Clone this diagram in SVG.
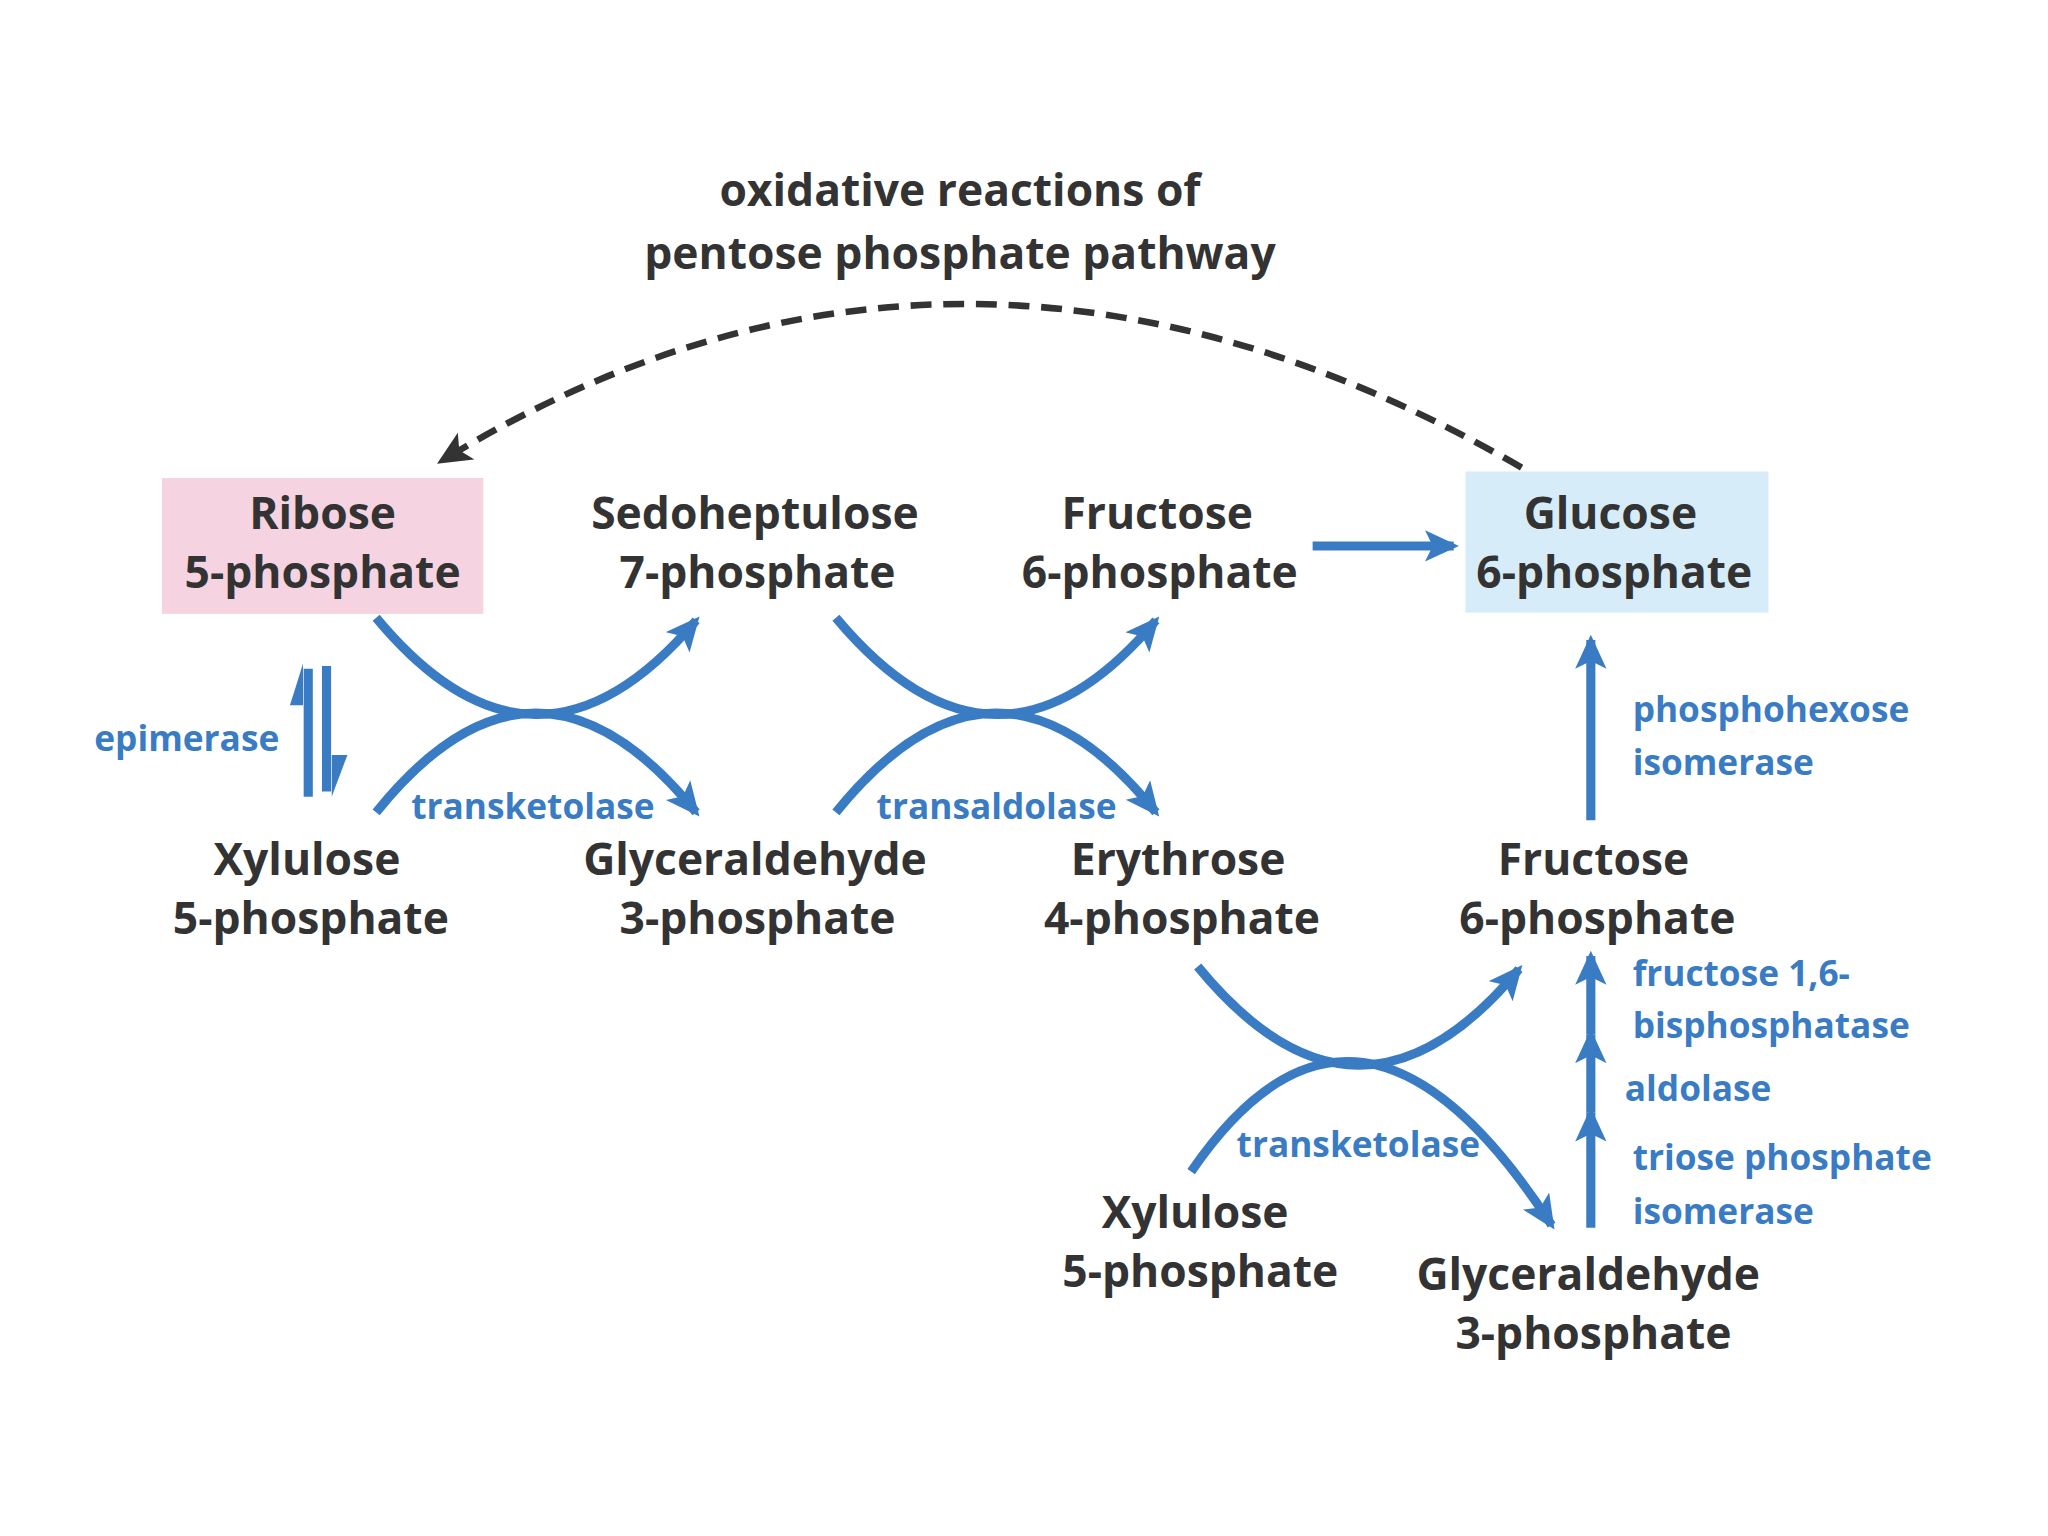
<svg xmlns="http://www.w3.org/2000/svg" width="2048" height="1536" viewBox="0 0 2048 1536">
<style>
.n{font-family:"Open Sans","Liberation Sans",sans-serif;font-weight:700;font-size:34px;fill:#333;text-anchor:middle}
.e{font-family:"Open Sans","Liberation Sans",sans-serif;font-weight:700;font-size:27px;fill:#3a7cc4}
.c{text-anchor:middle}
.b{fill:none;stroke:#3a7cc4;stroke-width:7}
</style>
<defs>
<marker id="a" markerUnits="userSpaceOnUse" markerWidth="30" markerHeight="30" refX="22" refY="12" orient="auto"><path d="M0,0 L26,12 L0,24 L6,12 Z" fill="#3a7cc4"/></marker>
<marker id="d" markerUnits="userSpaceOnUse" markerWidth="30" markerHeight="30" refX="22" refY="12" orient="auto"><path d="M0,0 L26,12 L0,24 L6,12 Z" fill="#333"/></marker>
</defs>
<rect width="2048" height="1536" fill="#fff"/>
<g transform="scale(1.3061)">
<g id="title"><text class="n" x="735" y="158">oxidative reactions of</text><text class="n" x="735" y="206">pentose phosphate pathway</text></g>
<g id="ribose"><rect x="124" y="366" width="246" height="104" fill="#f5d3e0"/><text class="n" x="247" y="405">Ribose</text><text class="n" x="247" y="450">5-phosphate</text></g>
<g id="sedo"><text class="n" x="578" y="405">Sedoheptulose</text><text class="n" x="580" y="450">7-phosphate</text></g>
<g id="fru1"><text class="n" x="886" y="405">Fructose</text><text class="n" x="888" y="450">6-phosphate</text></g>
<g id="glucose"><rect x="1122" y="361" width="232" height="108" fill="#d6ecf8"/><text class="n" x="1233" y="405">Glucose</text><text class="n" x="1236" y="450">6-phosphate</text></g>
<g id="xyl1"><text class="n" x="235" y="670">Xylulose</text><text class="n" x="238" y="715">5-phosphate</text></g>
<g id="gly1"><text class="n" x="578" y="670">Glyceraldehyde</text><text class="n" x="580" y="715">3-phosphate</text></g>
<g id="ery"><text class="n" x="902" y="670">Erythrose</text><text class="n" x="905" y="715">4-phosphate</text></g>
<g id="fru2"><text class="n" x="1220" y="670">Fructose</text><text class="n" x="1223" y="715">6-phosphate</text></g>
<g id="xyl2"><text class="n" x="915" y="940">Xylulose</text><text class="n" x="919" y="985">5-phosphate</text></g>
<g id="gly2"><text class="n" x="1216" y="988">Glyceraldehyde</text><text class="n" x="1220" y="1033">3-phosphate</text></g>
<g id="connectors">
<path d="M1165,358 Q735,110 338,353" fill="none" stroke="#333" stroke-width="5" stroke-dasharray="16,9" marker-end="url(#d)"/>
<path class="b" d="M1005,418 L1113,418" marker-end="url(#a)"/>
<path class="b" d="M236,610 L236,512"/><path d="M232,508 L232,540 L222,540 Z" fill="#3a7cc4"/>
<path class="b" d="M250,510 L250,606"/><path d="M254,610 L254,578 L266,578 Z" fill="#3a7cc4"/>
<path class="b" d="M288,473 Q410,620 533,475" marker-end="url(#a)"/>
<path class="b" d="M288,622 Q410,470 533,622" marker-end="url(#a)"/>
<path class="b" d="M640,473 Q763,620 885,475" marker-end="url(#a)"/>
<path class="b" d="M640,622 Q763,470 885,622" marker-end="url(#a)"/>
<path class="b" d="M917,740 Q1040,890 1163,742" marker-end="url(#a)"/>
<path class="b" d="M912,897 Q1040,710 1188,938" marker-end="url(#a)"/>
<path class="b" d="M1218,628 L1218,490" marker-end="url(#a)"/>
<path class="b" d="M1218,940 L1218,852" marker-end="url(#a)"/>
<path class="b" d="M1218,852 L1218,792" marker-end="url(#a)"/>
<path class="b" d="M1218,792 L1218,732" marker-end="url(#a)"/>
</g>
<g id="labels">
<text class="e c" x="143" y="575">epimerase</text>
<text class="e c" x="408" y="627">transketolase</text>
<text class="e c" x="763" y="627">transaldolase</text>
<text class="e c" x="1040" y="886">transketolase</text>
<text class="e" x="1250" y="553">phosphohexose</text>
<text class="e" x="1250" y="593">isomerase</text>
<text class="e" x="1250" y="755">fructose 1,6-</text>
<text class="e" x="1250" y="795">bisphosphatase</text>
<text class="e" x="1244" y="843">aldolase</text>
<text class="e" x="1250" y="896">triose phosphate</text>
<text class="e" x="1250" y="937">isomerase</text>
</g>
</g>
</svg>
